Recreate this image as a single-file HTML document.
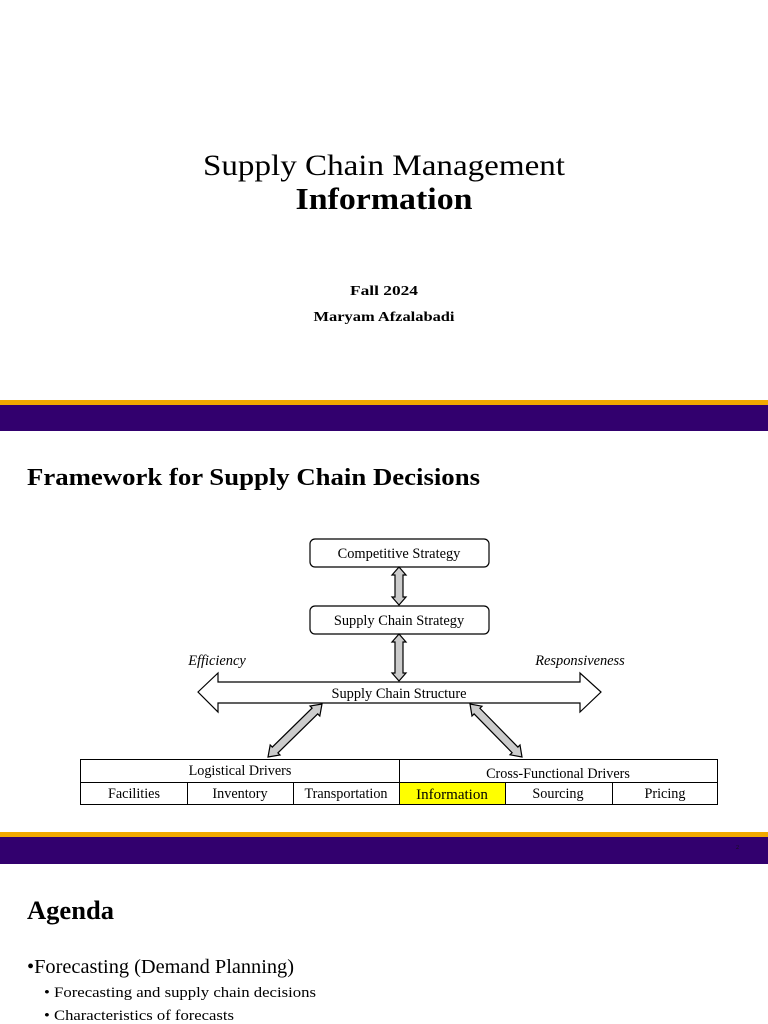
<!DOCTYPE html>
<html><head><meta charset="utf-8"><style>
html,body{margin:0;padding:0;background:#fff;}
svg{display:block;}
</style></head><body>
<svg width="768" height="1024" viewBox="0 0 768 1024" xmlns="http://www.w3.org/2000/svg">
<rect width="768" height="1024" fill="#fff"/>
<g font-family="Liberation Serif, serif" fill="#000">
<text x="384" y="175" font-size="30" text-anchor="middle" textLength="362" lengthAdjust="spacingAndGlyphs">Supply Chain Management</text>
<text x="384" y="209" font-size="31" font-weight="bold" text-anchor="middle" textLength="177" lengthAdjust="spacingAndGlyphs">Information</text>
<text x="384" y="295" font-size="14" font-weight="bold" text-anchor="middle" textLength="68" lengthAdjust="spacingAndGlyphs">Fall 2024</text>
<text x="384" y="321" font-size="14" font-weight="bold" text-anchor="middle" textLength="141" lengthAdjust="spacingAndGlyphs">Maryam Afzalabadi</text>
</g>
<rect x="0" y="400" width="768" height="5" fill="#f2a900"/>
<rect x="0" y="405" width="768" height="26" fill="#32006e"/>
<text x="27" y="485" font-family="Liberation Serif, serif" font-size="24" font-weight="bold" textLength="453" lengthAdjust="spacingAndGlyphs">Framework for Supply Chain Decisions</text>

<g stroke="#000" stroke-width="1.2">
<rect x="310" y="539" width="179" height="28" rx="5" fill="#fff"/>
<rect x="310" y="606" width="179" height="28" rx="5" fill="#fff"/>
<polygon points="399,567 406,575 403,575 403,597 406,597 399,605 392,597 395,597 395,575 392,575" fill="#ccc"/>
<polygon points="399,634 406,642 403,642 403,673 406,673 399,681 392,673 395,673 395,642 392,642" fill="#ccc"/>
<polygon points="198,692 218,673 218,682 580,682 580,673 601,692 580,712 580,703 218,703 218,712" fill="#fff"/>
<polygon points="322,704 319.8,716 317.7,713.9 277.9,752.9 280,755 268,757 270.2,745 272.3,747.1 312.1,708.1 310,706" fill="#ccc"/>
<polygon points="470,704 472,716 474.1,713.9 512.1,752.7 510,754.8 522,757 520,745 517.9,747.1 479.9,708.3 482,706.2" fill="#ccc"/>
</g>
<g font-family="Liberation Serif, serif" font-size="14.4" fill="#000" text-anchor="middle">
<text x="399" y="558">Competitive Strategy</text>
<text x="399" y="625">Supply Chain Strategy</text>
<text x="399" y="698">Supply Chain Structure</text>
<text x="217" y="665" font-style="italic">Efficiency</text>
<text x="580" y="665" font-style="italic">Responsiveness</text>
</g>
<rect x="399" y="782" width="106" height="23" fill="#ffff00"/>
<g stroke="#000" stroke-width="1" fill="none">
<rect x="80.5" y="759.5" width="637" height="45"/>
<line x1="80" y1="782.5" x2="718" y2="782.5"/>
<line x1="399.5" y1="759" x2="399.5" y2="805"/>
<line x1="187.5" y1="782" x2="187.5" y2="805"/>
<line x1="293.5" y1="782" x2="293.5" y2="805"/>
<line x1="505.5" y1="782" x2="505.5" y2="805"/>
<line x1="612.5" y1="782" x2="612.5" y2="805"/>
</g>
<g font-family="Liberation Serif, serif" font-size="14.2" fill="#000" text-anchor="middle">
<text x="240" y="775">Logistical Drivers</text>
<text x="558" y="778">Cross-Functional Drivers</text>
<text x="134" y="798">Facilities</text>
<text x="240" y="798">Inventory</text>
<text x="346" y="798">Transportation</text>
<text x="452" y="799" font-size="15">Information</text>
<text x="558" y="798">Sourcing</text>
<text x="665" y="798">Pricing</text>
</g>
<rect x="0" y="832" width="768" height="5" fill="#f2a900"/>
<rect x="0" y="837" width="768" height="27" fill="#32006e"/>
<text x="736" y="849" font-family="Liberation Serif, serif" font-size="6" fill="#111">2</text>
<g font-family="Liberation Serif, serif" fill="#000">
<text x="27" y="919" font-size="26" font-weight="bold" textLength="87" lengthAdjust="spacingAndGlyphs">Agenda</text>
<text x="27" y="973" font-size="20" textLength="267" lengthAdjust="spacingAndGlyphs">•Forecasting (Demand Planning)</text>
<text x="44" y="997" font-size="15" textLength="272" lengthAdjust="spacingAndGlyphs">• Forecasting and supply chain decisions</text>
<text x="44" y="1020" font-size="15" textLength="190" lengthAdjust="spacingAndGlyphs">• Characteristics of forecasts</text>
</g>
</svg>
</body></html>
